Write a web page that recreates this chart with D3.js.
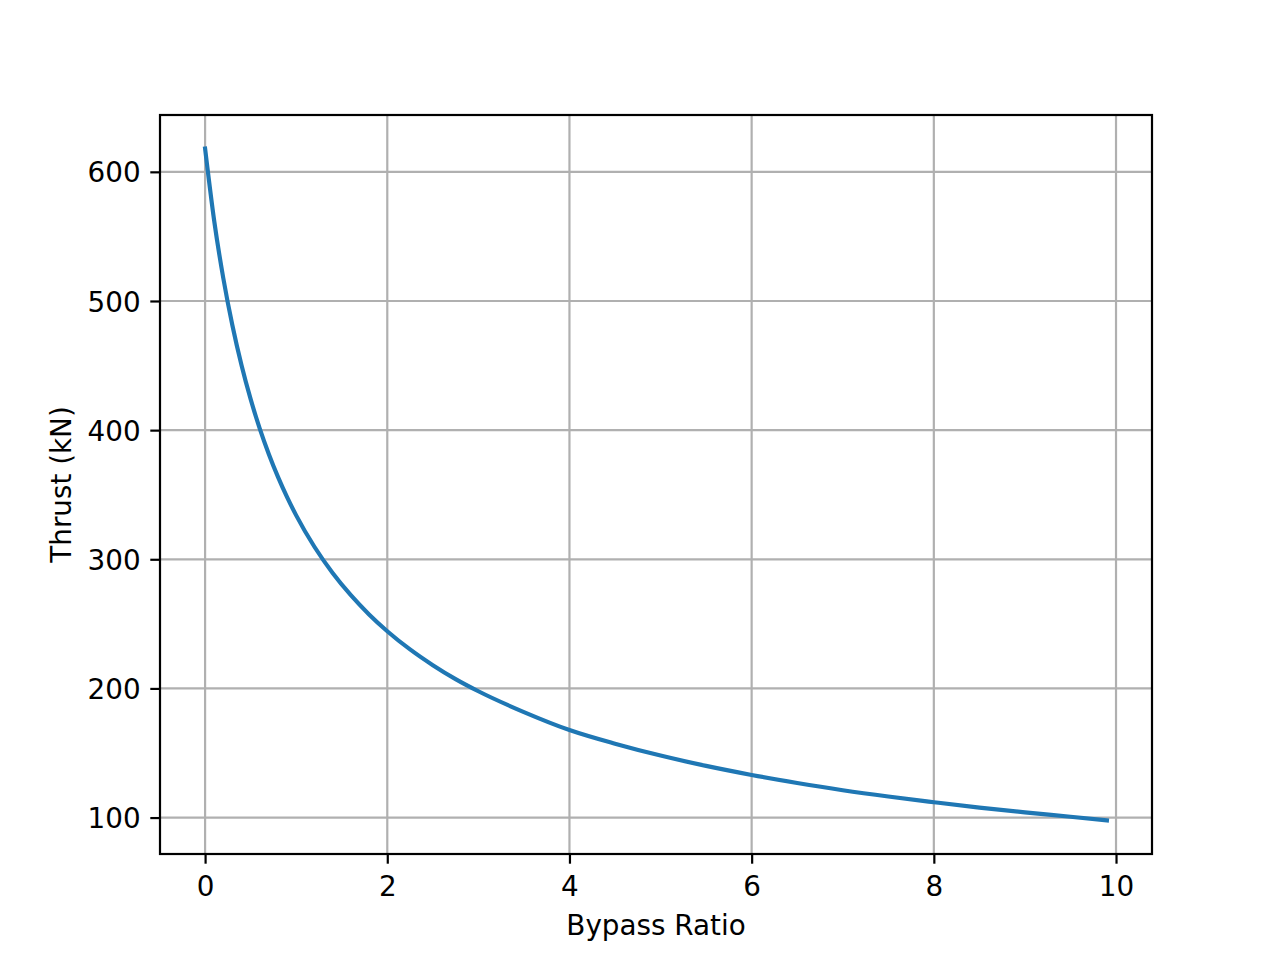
<!DOCTYPE html>
<html>
<head>
<script src="https://cdn.jsdelivr.net/npm/d3@7"></script>
<style>
  body { margin: 0; background: #fff; }
  text { font-family: "DejaVu Sans", sans-serif; }
</style>
</head>
<body>
<div id="viz"></div>
<script>
// bypass ratio vs thrust
var bypass = [0, 0.1, 0.2, 0.3, 0.4, 0.5, 0.6, 0.7, 0.8, 0.9, 1.0,
              1.2, 1.4, 1.6, 1.8, 2.0, 2.25, 2.5, 2.75, 3.0, 3.5,
              4.0, 4.5, 5.0, 5.5, 6.0, 6.5, 7.0, 7.5, 8.0, 8.5, 9.0, 9.5, 9.9];
var thrust = [618, 562, 517.6, 481, 450.2, 424, 401.2, 381.4, 363.8, 348.1, 334,
              309.7, 289.4, 272.2, 257.3, 244.3, 230.2, 218, 207.2, 197.8, 181.7,
              167.8, 157.2, 148, 140, 133, 126.8, 121.2, 116.3, 111.9, 107.7, 104, 100.6, 97.8];
var xTicks = [0, 2, 4, 6, 8, 10];
var yTicks = [100, 200, 300, 400, 500, 600];

var W = 1280, H = 960;
var axLeft = 160, axRight = 1152, axTop = 115, axBottom = 854;
var fs = 27.8;        // 10pt at 200 dpi
var tickLen = 9.7, tickPad = 9.7;

var svg = d3.select("#viz").append("svg")
    .attr("width", W)
    .attr("height", H);

// matplotlib-like 5% margins
var xmin = d3.min(bypass), xmax = d3.max(bypass);
var ymin = d3.min(thrust), ymax = d3.max(thrust);
var mx = (xmax - xmin) * 0.05, my = (ymax - ymin) * 0.05;

var x = d3.scaleLinear().domain([xmin - mx, xmax + mx]).range([axLeft, axRight]);
var y = d3.scaleLinear().domain([ymin - my, ymax + my]).range([axBottom, axTop]);

// grid
var grid = svg.append("g");
xTicks.forEach(function(t) {
  grid.append("line")
    .attr("x1", x(t)).attr("x2", x(t))
    .attr("y1", axTop).attr("y2", axBottom)
    .style("stroke", "#b0b0b0")
    .style("stroke-width", 2.2);
});
yTicks.forEach(function(t) {
  grid.append("line")
    .attr("x1", axLeft).attr("x2", axRight)
    .attr("y1", y(t)).attr("y2", y(t))
    .style("stroke", "#b0b0b0")
    .style("stroke-width", 2.2);
});

// curve
var line = d3.line()
    .x(function(d, i) { return x(bypass[i]); })
    .y(function(d) { return y(d); })
    .curve(d3.curveMonotoneX);

svg.append("path")
    .datum(thrust)
    .attr("d", line)
    .style("fill", "none")
    .style("stroke", "#1f77b4")
    .style("stroke-width", 4.17)
    .style("stroke-linecap", "square");

// axes
var xAxis = d3.axisBottom(x).tickValues(xTicks).tickSize(tickLen).tickPadding(tickPad).tickFormat(d3.format("d"));
var yAxis = d3.axisLeft(y).tickValues(yTicks).tickSize(tickLen).tickPadding(tickPad).tickFormat(d3.format("d"));

var gx = svg.append("g").attr("transform", "translate(0," + axBottom + ")").call(xAxis);
var gy = svg.append("g").attr("transform", "translate(" + axLeft + ",0)").call(yAxis);

[gx, gy].forEach(function(g) {
  g.select(".domain").remove();
  g.selectAll(".tick line").style("stroke", "#000").style("stroke-width", 2.2);
  g.selectAll(".tick text")
    .style("font-family", "DejaVu Sans")
    .style("font-size", fs + "px")
    .style("fill", "#000");
});
gx.selectAll(".tick text").attr("dy", null).attr("y", 896 - axBottom);
gy.selectAll(".tick text").attr("dy", "0.365em");

// frame
svg.append("rect")
    .attr("x", axLeft).attr("y", axTop)
    .attr("width", axRight - axLeft).attr("height", axBottom - axTop)
    .style("fill", "none")
    .style("stroke", "#000")
    .style("stroke-width", 2.2);

// labels
svg.append("text")
    .attr("x", (axLeft + axRight) / 2)
    .attr("y", 935)
    .style("text-anchor", "middle")
    .style("font-size", fs + "px")
    .text("Bypass Ratio");

svg.append("text")
    .attr("transform", "translate(70.7," + ((axTop + axBottom) / 2) + ") rotate(-90)")
    .style("text-anchor", "middle")
    .style("font-size", fs + "px")
    .text("Thrust (kN)");
</script>
</body>
</html>
